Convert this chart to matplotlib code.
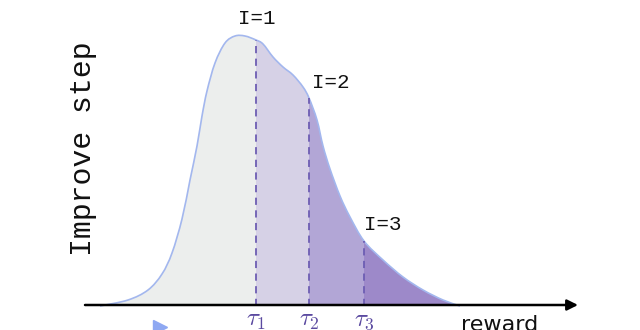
import matplotlib
matplotlib.use("Agg")
import matplotlib.pyplot as plt
from matplotlib.path import Path
from matplotlib.patches import PathPatch
import numpy as np

plt.rcParams['mathtext.fontset'] = 'cm'

# reward position and density of the curve
reward = [100, 128, 148, 162, 172, 182, 190, 197, 202, 207, 215, 225, 235,
          245, 256, 263, 273, 283, 293, 303, 309, 317, 323, 330, 340, 350,
          364, 383, 403, 423, 443, 460]
density = [0, 6, 16, 32, 53, 87, 126, 160, 190, 215, 243, 263, 270,
           270, 266, 262, 249, 239, 231, 219, 208, 186, 160, 137, 110, 89,
           65, 46, 29, 16, 6, 0]

thresholds = [256, 309, 364]
threshold_labels = [r'$\tau_1$', r'$\tau_2$', r'$\tau_3$']
step_labels = ['I=1', 'I=2', 'I=3']
step_label_pos = [(257, 287), (331, 223), (383, 82)]

region_colors = ['#eceeed', '#d6d1e6', '#b2a6d6', '#9d89c9']

x = np.array(reward, dtype=float)
y = np.array(density, dtype=float)


def smooth_path(xs, ys, close=False):
    # catmull-rom through the read points, drawn as bezier segments
    pts = np.column_stack([xs, ys])
    verts = [pts[0]]
    codes = [Path.MOVETO]
    n = len(pts)
    for i in range(n - 1):
        p0 = pts[max(i - 1, 0)]
        p1 = pts[i]
        p2 = pts[i + 1]
        p3 = pts[min(i + 2, n - 1)]
        verts += [p1 + (p2 - p0) / 6, p2 - (p3 - p1) / 6, p2]
        codes += [Path.CURVE4] * 3
    if close:
        verts += [pts[0], pts[0]]
        codes += [Path.LINETO, Path.CLOSEPOLY]
    return Path(verts, codes)


fig = plt.figure(figsize=(6.4, 3.3), dpi=100)
ax = fig.add_axes([0, 0, 1, 1])
ax.set_xlim(0, 640)
ax.set_ylim(-24, 306)
ax.axis('off')

edges = [x[0]] + thresholds + [x[-1]]
area = smooth_path(x, y, close=True)
for i in range(4):
    patch = PathPatch(area, facecolor=region_colors[i], lw=0)
    ax.add_patch(patch)
    clip = plt.Rectangle((edges[i], -1), edges[i + 1] - edges[i], 300,
                         transform=ax.transData)
    patch.set_clip_path(clip)

ax.add_patch(PathPatch(smooth_path(x, y), facecolor='none',
                       edgecolor='#a3b7ee', lw=1.2))

for t, lab in zip(thresholds, threshold_labels):
    h = y[list(x).index(t)]
    ax.plot([t, t], [0, h], color='#6d5db3', lw=1.3, ls=(0, (4, 3)))
    ax.text(t, -14, lab, color='#5b4aa0', fontsize=18, ha='center',
            va='center')

for lab, (px, py) in zip(step_labels, step_label_pos):
    ax.text(px, py, lab, fontsize=15, family='Liberation Mono',
            ha='center', va='center', color='#111111')

ax.annotate('', xy=(578, 1), xytext=(85, 1),
            arrowprops=dict(arrowstyle='-|>', lw=1.8, color='black',
                            mutation_scale=16, shrinkA=0, shrinkB=0))

ax.text(83, 157, 'Improve step', rotation=90, fontsize=21.5,
        family='Liberation Mono', ha='center', va='center', color='#111111')
ax.text(500, -9, 'reward', fontsize=16, ha='center', va='top', color='#111111')
ax.plot([160], [-21], marker='>', ms=10, color='#8ea8f2', ls='none')

fig.savefig('out.png', dpi=100)
